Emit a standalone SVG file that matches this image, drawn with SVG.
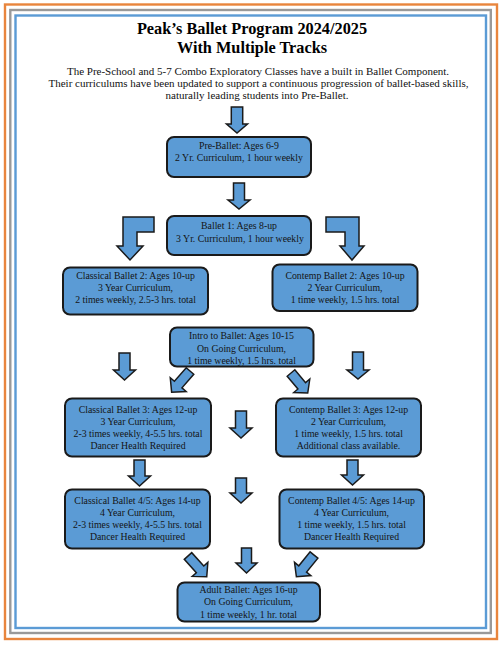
<svg xmlns="http://www.w3.org/2000/svg" width="500" height="647" viewBox="0 0 500 647">
<style>
.bg{fill:#ffffff}
.node{fill:#5b9bd5;stroke:#1a1a1a;stroke-width:2}
.arr{fill:#5b9bd5;stroke:#1a1a1a;stroke-width:1.5;stroke-linejoin:miter}
.t{font-family:"Liberation Serif","Times New Roman",serif;font-size:9.8px;fill:#141414;text-anchor:middle}
.title{font-family:"Liberation Serif","Times New Roman",serif;font-size:16.3px;font-weight:bold;fill:#000;text-anchor:middle}
.sub{font-family:"Liberation Serif","Times New Roman",serif;font-size:11px;fill:#111;text-anchor:middle}
</style>
<defs>
<polygon id="diag" points="-5,0 5,0 5,18 10.5,18 0,28 -10.5,18 -5,18"/>
</defs>
<rect class="bg" x="0" y="0" width="500" height="647"/>
<g id="border" fill="none" stroke-width="2.4">
<rect x="5" y="4.5" width="492" height="634.5" stroke="#e8853d"/>
<rect x="10.3" y="10" width="480.5" height="623" stroke="#999999"/>
<rect x="15.5" y="15.5" width="470.5" height="612.5" stroke="#5b9bd5"/>
</g>
<g id="title">
<text class="title" x="252" y="33.5">Peak’s Ballet Program 2024/2025</text>
<text class="title" x="252" y="53">With Multiple Tracks</text>
<text class="sub" x="258" y="74.5">The Pre-School and 5-7 Combo Exploratory Classes have a built in Ballet Component.</text>
<text class="sub" x="258.5" y="86.5">Their curriculums have been updated to support a continuous progression of ballet-based skills,</text>
<text class="sub" x="257" y="98.5">naturally leading students into Pre-Ballet.</text>
</g>
<g id="connectors">
<polygon class="arr" points="231.3,107 242.7,107 242.7,124 247.5,124 237,133 226.5,124 231.3,124"/>
<polygon class="arr" points="233.5,183 244.5,183 244.5,200 250,200 239,209 228,200 233.5,200"/>
<polygon class="arr" points="154,217 123,217 123,246 117,246 130,260 143,246 137,246 137,232 154,232"/>
<polygon class="arr" points="326,217 359,217 359,246 364,246 352,260 340,246 345,246 345,232 326,232"/>
<polygon class="arr" points="119,353 130,353 130,370 135.5,370 124.5,380 113.5,370 119,370"/>
<polygon class="arr" points="352.5,352 363.5,352 363.5,370 369,370 358,379 347,370 352.5,370"/>
<use class="arr" href="#diag" transform="translate(190,371) rotate(41)"/>
<use class="arr" href="#diag" transform="translate(291,373) rotate(-40) scale(1,0.93)"/>
<polygon class="arr" points="235.5,411 246.5,411 246.5,428 252,428 241,438 230,428 235.5,428"/>
<polygon class="arr" points="134,460 145,460 145,476 150.5,476 139.5,486 128.5,476 134,476"/>
<polygon class="arr" points="347,460 358,460 358,475 363.5,475 352.5,485 341.5,475 347,475"/>
<polygon class="arr" points="235.5,478 246.5,478 246.5,493 252,493 241,503 230,493 235.5,493"/>
<polygon class="arr" points="241.5,548 251.5,548 251.5,563 257,563 246.5,573 236,563 241.5,563"/>
<use class="arr" href="#diag" transform="translate(188,556) rotate(-42)"/>
<use class="arr" href="#diag" transform="translate(314,555) rotate(39)"/>
</g>
<g id="pre-ballet">
<rect class="node" x="167" y="137" width="144" height="40" rx="7"/>
<text class="t" x="239" y="148.5">Pre-Ballet: Ages 6-9</text>
<text class="t" x="239" y="161">2 Yr. Curriculum, 1 hour weekly</text>
</g>
<g id="ballet-1">
<rect class="node" x="167" y="216" width="144" height="39" rx="7"/>
<text class="t" x="239" y="229">Ballet 1: Ages 8-up</text>
<text class="t" x="240" y="241.5">3 Yr. Curriculum, 1 hour weekly</text>
</g>
<g id="classical-ballet-2">
<rect class="node" x="63" y="267.5" width="145" height="47" rx="7"/>
<text class="t" x="135.5" y="278.5">Classical Ballet 2: Ages 10-up</text>
<text class="t" x="135.5" y="290.5">3 Year Curriculum,</text>
<text class="t" x="135.5" y="302.5">2 times weekly, 2.5-3 hrs. total</text>
</g>
<g id="contemp-ballet-2">
<rect class="node" x="272.5" y="264.5" width="145" height="46.5" rx="7"/>
<text class="t" x="345" y="278.5">Contemp Ballet 2: Ages 10-up</text>
<text class="t" x="345" y="290.5">2 Year Curriculum,</text>
<text class="t" x="345" y="302.5">1 time weekly, 1.5 hrs. total</text>
</g>
<g id="intro-to-ballet">
<rect class="node" x="170" y="327.5" width="143.5" height="39" rx="7"/>
<text class="t" x="241.5" y="339">Intro to Ballet: Ages 10-15</text>
<text class="t" x="241.5" y="351.5">On Going Curriculum,</text>
<text class="t" x="241.5" y="363.5">1 time weekly, 1.5 hrs. total</text>
</g>
<g id="classical-ballet-3">
<rect class="node" x="65" y="398.5" width="146" height="58" rx="7"/>
<text class="t" x="138" y="412.5">Classical Ballet 3: Ages 12-up</text>
<text class="t" x="138" y="424.5">3 Year Curriculum,</text>
<text class="t" x="138" y="437">2-3 times weekly, 4-5.5 hrs. total</text>
<text class="t" x="138" y="449">Dancer Health Required</text>
</g>
<g id="contemp-ballet-3">
<rect class="node" x="276" y="398.5" width="145" height="58" rx="7"/>
<text class="t" x="348.5" y="412.5">Contemp Ballet 3: Ages 12-up</text>
<text class="t" x="348.5" y="424.5">2 Year Curriculum,</text>
<text class="t" x="348.5" y="437">1 time weekly, 1.5 hrs. total</text>
<text class="t" x="348.5" y="449">Additional class available.</text>
</g>
<g id="classical-ballet-4-5">
<rect class="node" x="65" y="489.5" width="145" height="59" rx="7"/>
<text class="t" x="137.5" y="503.5">Classical Ballet 4/5: Ages 14-up</text>
<text class="t" x="137.5" y="516">4 Year Curriculum,</text>
<text class="t" x="137.5" y="528">2-3 times weekly, 4-5.5 hrs. total</text>
<text class="t" x="137.5" y="540">Dancer Health Required</text>
</g>
<g id="contemp-ballet-4-5">
<rect class="node" x="279.5" y="489.5" width="144.5" height="59" rx="7"/>
<text class="t" x="351.5" y="503.5">Contemp Ballet 4/5: Ages 14-up</text>
<text class="t" x="351.5" y="516">4 Year Curriculum,</text>
<text class="t" x="351.5" y="528">1 time weekly, 1.5 hrs. total</text>
<text class="t" x="351.5" y="540">Dancer Health Required</text>
</g>
<g id="adult-ballet">
<rect class="node" x="177.5" y="582.5" width="142.5" height="39" rx="7"/>
<text class="t" x="248.5" y="593">Adult Ballet: Ages 16-up</text>
<text class="t" x="248.5" y="605">On Going Curriculum,</text>
<text class="t" x="248.5" y="617.5">1 time weekly, 1 hr. total</text>
</g>
</svg>
